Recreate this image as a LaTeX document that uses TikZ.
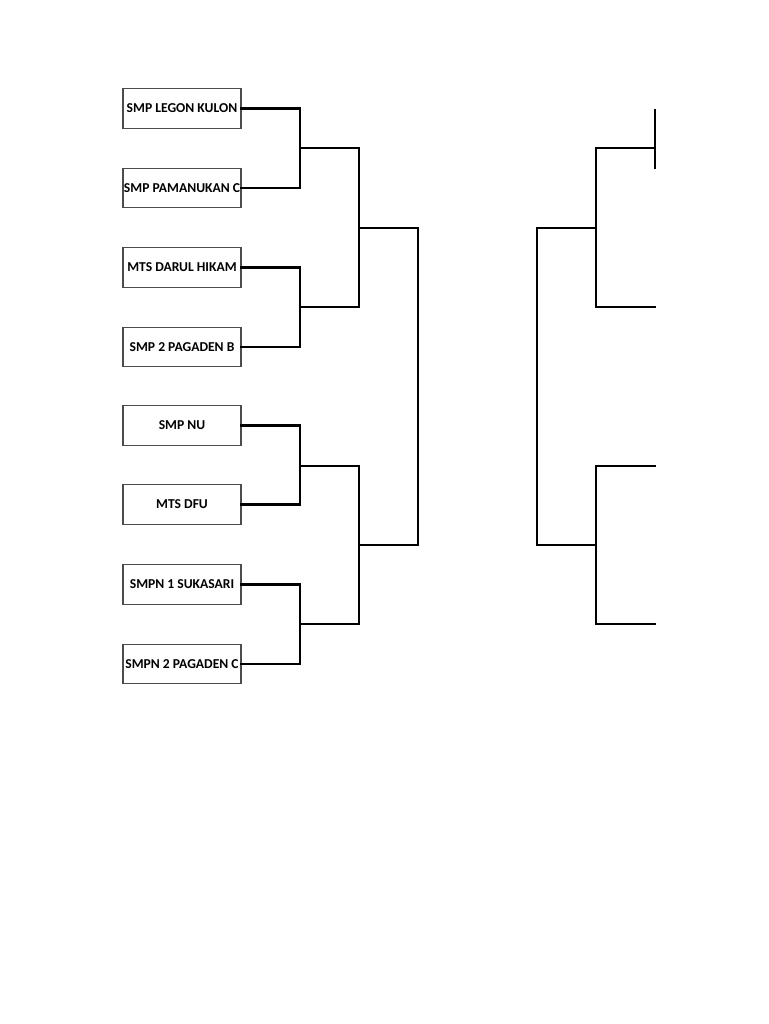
\documentclass[tikz,border=0pt]{standalone}
\usepackage{fontspec}
\setmainfont{Carlito}
\begin{document}
\begin{tikzpicture}[x=1pt,y=-1pt,
  team/.style={draw=black!70,line width=1.1pt,minimum width=118pt,minimum height=39.5pt,inner sep=0pt,
    font=\fontsize{13.6}{15}\selectfont\bfseries},
  conn/.style={line width=2.5pt,line cap=rect}]
\useasboundingbox (0,0) rectangle (768,1024);
\node[team] (b1) at (182,108.5) {SMP LEGON KULON};
\node[team] (b2) at (182,188) {SMP PAMANUKAN C};
\node[team] (b3) at (182,267.5) {MTS DARUL HIKAM};
\node[team] (b4) at (182,347) {SMP 2 PAGADEN B};
\node[team] (b5) at (182,425.5) {SMP NU};
\node[team] (b6) at (182,504.5) {MTS DFU};
\node[team] (b7) at (182,584.5) {SMPN 1 SUKASARI};
\node[team] (b8) at (182,664) {SMPN 2 PAGADEN C};
% left bracket junctions
\coordinate (m1) at (300,148);
\coordinate (m2) at (300,307);
\coordinate (m3) at (300,466);
\coordinate (m4) at (300,624);
\coordinate (n1) at (359,228);
\coordinate (n2) at (359,545);
\coordinate (f) at (418,386.5);
\draw[conn] (b1.east) -| (m1) |- (b2.east);
\draw[conn] (b3.east) -| (m2) |- (b4.east);
\draw[conn] (b5.east) -| (m3) |- (b6.east);
\draw[conn] (b7.east) -| (m4) |- (b8.east);
\draw[conn] (m1) -| (n1) |- (m2);
\draw[conn] (m3) -| (n2) |- (m4);
\draw[conn] (n1) -| (f) |- (n2);
% right bracket
\coordinate (rf) at (537,386.5);
\coordinate (rn1) at (596,228);
\coordinate (rn2) at (596,545);
\coordinate (rm1) at (655,148);
\coordinate (rm2) at (655,307);
\coordinate (rm3) at (655,466);
\coordinate (rm4) at (655,624);
\coordinate (t1) at (655,110);
\coordinate (t2) at (655,168);
\draw[conn] (rn1) -| (rf) |- (rn2);
\draw[conn] (rm1) -| (rn1) |- (rm2);
\draw[conn] (rm3) -| (rn2) |- (rm4);
\draw[conn] (t1) -- (t2);
\end{tikzpicture}
\end{document}
